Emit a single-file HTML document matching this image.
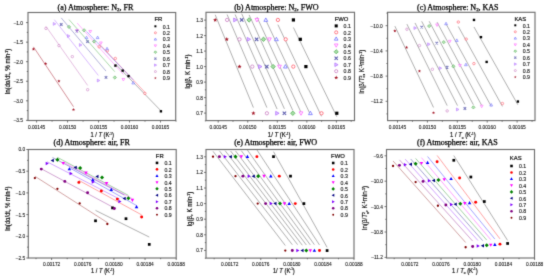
<!DOCTYPE html>
<html><head><meta charset="utf-8"><style>
html,body{margin:0;padding:0;background:#fff;}
svg{display:block;}
#w{width:550px;height:278px;}
.tl{font-family:"Liberation Sans",Arial,sans-serif;font-size:4.8px;fill:#1a1a1a;stroke:#1a1a1a;stroke-width:0.1px;}
.yl{font-family:"Liberation Sans",Arial,sans-serif;font-size:6.3px;fill:#111;stroke:#111;stroke-width:0.18px;}
.lgt{font-family:"Liberation Sans",Arial,sans-serif;font-size:5.9px;fill:#111;stroke:#111;stroke-width:0.2px;}
.al{font-family:"Liberation Sans",Arial,sans-serif;font-size:6.5px;fill:#111;stroke:#111;stroke-width:0.18px;}
.lg{font-family:"Liberation Sans",Arial,sans-serif;font-size:5.2px;fill:#1a1a1a;stroke:#1a1a1a;stroke-width:0.14px;}
.tt{font-family:"Liberation Serif","Times New Roman",serif;font-size:8.1px;fill:#000;stroke:#000;stroke-width:0.25px;}
</style></head><body>
<div id="w"><svg width="550" height="278" viewBox="0 0 550 278">
<defs><filter id="bl" x="0" y="0" width="550" height="278" filterUnits="userSpaceOnUse" color-interpolation-filters="sRGB"><feConvolveMatrix order="3" kernelMatrix="0.0144 0.0912 0.0144 0.0912 0.5776 0.0912 0.0144 0.0912 0.0144" edgeMode="duplicate"/></filter></defs>
<g filter="url(#bl)">
<rect width="550" height="278" fill="#fff"/>
<line x1="115.43" y1="63.96" x2="160.92" y2="110.78" stroke="#7a7a7a" stroke-width="0.6"/>
<line x1="99.18" y1="43.80" x2="144.88" y2="92.23" stroke="#ff5060" stroke-width="0.6" stroke-opacity="0.8"/>
<line x1="86.50" y1="31.42" x2="133.25" y2="79.90" stroke="#6868ff" stroke-width="0.6" stroke-opacity="0.8"/>
<line x1="77.17" y1="23.07" x2="123.39" y2="74.47" stroke="#ff60ff" stroke-width="0.6" stroke-opacity="0.8"/>
<line x1="68.99" y1="19.56" x2="114.80" y2="71.70" stroke="#50b050" stroke-width="0.6" stroke-opacity="0.8"/>
<line x1="61.23" y1="17.90" x2="105.99" y2="71.09" stroke="#6060b0" stroke-width="0.6" stroke-opacity="0.8"/>
<line x1="54.31" y1="19.68" x2="98.34" y2="75.41" stroke="#b070ff" stroke-width="0.6" stroke-opacity="0.8"/>
<line x1="45.93" y1="26.35" x2="87.65" y2="85.43" stroke="#c878c0" stroke-width="0.6" stroke-opacity="0.8"/>
<line x1="33.46" y1="46.86" x2="73.50" y2="106.74" stroke="#a51828" stroke-width="0.6" stroke-opacity="0.8"/>
<rect x="114.24" y="64.42" width="2.37" height="2.37" fill="#000000"/>
<rect x="121.48" y="69.42" width="2.37" height="2.37" fill="#000000"/>
<rect x="127.35" y="74.92" width="2.37" height="2.37" fill="#000000"/>
<rect x="159.74" y="110.12" width="2.37" height="2.37" fill="#000000"/>
<circle cx="99.18" cy="46.80" r="1.22" fill="#fff" stroke="#ff5060" stroke-width="0.75" opacity="0.8"/>
<circle cx="107.36" cy="50.70" r="1.22" fill="#fff" stroke="#ff5060" stroke-width="0.75" opacity="0.8"/>
<circle cx="115.32" cy="58.50" r="1.22" fill="#fff" stroke="#ff5060" stroke-width="0.75" opacity="0.8"/>
<circle cx="144.88" cy="93.40" r="1.22" fill="#fff" stroke="#ff5060" stroke-width="0.75" opacity="0.8"/>
<polygon points="86.50,36.22 87.90,38.74 85.09,38.74" fill="#fff" stroke="#6868ff" stroke-width="0.75" stroke-linejoin="miter" opacity="0.8"/>
<polygon points="97.61,36.12 99.01,38.64 96.20,38.64" fill="#fff" stroke="#6868ff" stroke-width="0.75" stroke-linejoin="miter" opacity="0.8"/>
<polygon points="107.04,47.32 108.45,49.84 105.63,49.84" fill="#fff" stroke="#6868ff" stroke-width="0.75" stroke-linejoin="miter" opacity="0.8"/>
<polygon points="133.25,81.42 134.65,83.94 131.84,83.94" fill="#fff" stroke="#6868ff" stroke-width="0.75" stroke-linejoin="miter" opacity="0.8"/>
<polygon points="77.17,32.08 78.57,29.56 75.76,29.56" fill="#fff" stroke="#ff60ff" stroke-width="0.75" stroke-linejoin="miter" opacity="0.8"/>
<polygon points="90.27,32.98 91.68,30.46 88.86,30.46" fill="#fff" stroke="#ff60ff" stroke-width="0.75" stroke-linejoin="miter" opacity="0.8"/>
<polygon points="100.86,44.48 102.26,41.96 99.45,41.96" fill="#fff" stroke="#ff60ff" stroke-width="0.75" stroke-linejoin="miter" opacity="0.8"/>
<polygon points="123.39,80.98 124.80,78.46 121.99,78.46" fill="#fff" stroke="#ff60ff" stroke-width="0.75" stroke-linejoin="miter" opacity="0.8"/>
<polygon points="68.99,25.27 70.62,26.90 68.99,28.53 67.36,26.90" fill="#a8dca8" stroke="#50b050" stroke-width="0.75" stroke-linejoin="miter" opacity="0.8"/>
<polygon points="84.08,28.67 85.71,30.30 84.08,31.93 82.46,30.30" fill="#a8dca8" stroke="#50b050" stroke-width="0.75" stroke-linejoin="miter" opacity="0.8"/>
<polygon points="94.15,39.87 95.78,41.50 94.15,43.13 92.52,41.50" fill="#a8dca8" stroke="#50b050" stroke-width="0.75" stroke-linejoin="miter" opacity="0.8"/>
<polygon points="114.80,75.87 116.43,77.50 114.80,79.13 113.17,77.50" fill="#a8dca8" stroke="#50b050" stroke-width="0.75" stroke-linejoin="miter" opacity="0.8"/>
<path d="M59.98,23.24L62.49,25.76M62.49,23.24L59.98,25.76" stroke="#6060b0" stroke-width="1.1" fill="none" opacity="0.8"/>
<path d="M75.59,29.84L78.11,32.36M78.11,29.84L75.59,32.36" stroke="#6060b0" stroke-width="1.1" fill="none" opacity="0.8"/>
<path d="M86.29,40.34L88.80,42.86M88.80,40.34L86.29,42.86" stroke="#6060b0" stroke-width="1.1" fill="none" opacity="0.8"/>
<path d="M104.73,76.14L107.25,78.66M107.25,76.14L104.73,78.66" stroke="#6060b0" stroke-width="1.1" fill="none" opacity="0.8"/>
<polygon points="55.79,23.90 53.28,22.49 53.28,25.31" fill="#e4c8ff" stroke="#b070ff" stroke-width="0.75" stroke-linejoin="miter" opacity="0.8"/>
<polygon points="69.95,36.00 67.43,34.59 67.43,37.41" fill="#e4c8ff" stroke="#b070ff" stroke-width="0.75" stroke-linejoin="miter" opacity="0.8"/>
<polygon points="81.90,45.00 79.38,43.59 79.38,46.41" fill="#e4c8ff" stroke="#b070ff" stroke-width="0.75" stroke-linejoin="miter" opacity="0.8"/>
<polygon points="99.82,80.50 97.30,79.09 97.30,81.91" fill="#e4c8ff" stroke="#b070ff" stroke-width="0.75" stroke-linejoin="miter" opacity="0.8"/>
<circle cx="45.93" cy="28.40" r="1.22" fill="#fff" stroke="#c878c0" stroke-width="0.75" opacity="0.8"/>
<circle cx="58.93" cy="45.60" r="1.22" fill="#fff" stroke="#c878c0" stroke-width="0.75" opacity="0.8"/>
<circle cx="72.34" cy="56.60" r="1.22" fill="#fff" stroke="#c878c0" stroke-width="0.75" opacity="0.8"/>
<circle cx="87.65" cy="89.70" r="1.22" fill="#fff" stroke="#c878c0" stroke-width="0.75" opacity="0.8"/>
<polygon points="33.46,47.57 33.89,48.60 35.00,48.70 34.16,49.43 34.41,50.52 33.46,49.94 32.50,50.52 32.75,49.43 31.91,48.70 33.02,48.60" fill="#a51828"/>
<polygon points="45.61,62.07 46.05,63.10 47.16,63.20 46.32,63.93 46.57,65.02 45.61,64.44 44.66,65.02 44.91,63.93 44.07,63.20 45.18,63.10" fill="#a51828"/>
<polygon points="58.93,79.47 59.36,80.50 60.48,80.60 59.63,81.33 59.88,82.42 58.93,81.84 57.97,82.42 58.22,81.33 57.38,80.60 58.49,80.50" fill="#a51828"/>
<polygon points="73.50,107.97 73.93,109.00 75.05,109.10 74.20,109.83 74.45,110.92 73.50,110.34 72.54,110.92 72.79,109.83 71.95,109.10 73.06,109.00" fill="#a51828"/>
<rect x="28.00" y="12.50" width="147.70" height="108.00" fill="none" stroke="#707070" stroke-width="1.15"/>
<line x1="36.60" y1="120.50" x2="36.60" y2="122.50" stroke="#555" stroke-width="0.8"/>
<line x1="67.58" y1="120.50" x2="67.58" y2="122.50" stroke="#555" stroke-width="0.8"/>
<line x1="98.55" y1="120.50" x2="98.55" y2="122.50" stroke="#555" stroke-width="0.8"/>
<line x1="129.53" y1="120.50" x2="129.53" y2="122.50" stroke="#555" stroke-width="0.8"/>
<line x1="160.50" y1="120.50" x2="160.50" y2="122.50" stroke="#555" stroke-width="0.8"/>
<line x1="52.09" y1="120.50" x2="52.09" y2="121.70" stroke="#555" stroke-width="0.8"/>
<line x1="83.06" y1="120.50" x2="83.06" y2="121.70" stroke="#555" stroke-width="0.8"/>
<line x1="114.04" y1="120.50" x2="114.04" y2="121.70" stroke="#555" stroke-width="0.8"/>
<line x1="145.01" y1="120.50" x2="145.01" y2="121.70" stroke="#555" stroke-width="0.8"/>
<line x1="175.99" y1="120.50" x2="175.99" y2="121.70" stroke="#555" stroke-width="0.8"/>
<line x1="26.00" y1="22.60" x2="28.00" y2="22.60" stroke="#555" stroke-width="0.8"/>
<line x1="26.00" y1="42.15" x2="28.00" y2="42.15" stroke="#555" stroke-width="0.8"/>
<line x1="26.00" y1="61.70" x2="28.00" y2="61.70" stroke="#555" stroke-width="0.8"/>
<line x1="26.00" y1="81.25" x2="28.00" y2="81.25" stroke="#555" stroke-width="0.8"/>
<line x1="26.00" y1="100.80" x2="28.00" y2="100.80" stroke="#555" stroke-width="0.8"/>
<line x1="26.00" y1="120.35" x2="28.00" y2="120.35" stroke="#555" stroke-width="0.8"/>
<line x1="26.80" y1="32.38" x2="28.00" y2="32.38" stroke="#555" stroke-width="0.8"/>
<line x1="26.80" y1="51.92" x2="28.00" y2="51.92" stroke="#555" stroke-width="0.8"/>
<line x1="26.80" y1="71.47" x2="28.00" y2="71.47" stroke="#555" stroke-width="0.8"/>
<line x1="26.80" y1="91.03" x2="28.00" y2="91.03" stroke="#555" stroke-width="0.8"/>
<line x1="26.80" y1="110.58" x2="28.00" y2="110.58" stroke="#555" stroke-width="0.8"/>
<text x="36.60" y="129.00" class="tl" text-anchor="middle">0.00145</text>
<text x="67.58" y="129.00" class="tl" text-anchor="middle">0.00150</text>
<text x="98.55" y="129.00" class="tl" text-anchor="middle">0.00155</text>
<text x="129.53" y="129.00" class="tl" text-anchor="middle">0.00160</text>
<text x="160.50" y="129.00" class="tl" text-anchor="middle">0.00165</text>
<text x="23.00" y="24.50" class="tl" text-anchor="end">–1.0</text>
<text x="23.00" y="44.05" class="tl" text-anchor="end">–1.5</text>
<text x="23.00" y="63.60" class="tl" text-anchor="end">–2.0</text>
<text x="23.00" y="83.15" class="tl" text-anchor="end">–2.5</text>
<text x="23.00" y="102.70" class="tl" text-anchor="end">–3.0</text>
<text x="23.00" y="122.25" class="tl" text-anchor="end">–3.5</text>
<text x="57.50" y="9.50" class="tt" textLength="75.8" lengthAdjust="spacing">(a) Atmosphere: N<tspan dy="1.6" font-size="5">2</tspan><tspan dy="-1.6">, </tspan>FR</text>
<text x="90.40" y="137.10" class="al" textLength="23.5" lengthAdjust="spacingAndGlyphs">1 / <tspan font-style="italic">T</tspan> (K<tspan dy="-2.3" font-size="3.3">-1</tspan><tspan dy="2.3">)</tspan></text>
<text transform="translate(10.00,94.20) rotate(-90)" class="yl" textLength="45.4" lengthAdjust="spacingAndGlyphs">ln(dα/dt, % min<tspan dy="-2" font-size="3.6">-1</tspan><tspan dy="2">)</tspan></text>
<text x="154.50" y="21.10" class="lgt">FR</text>
<rect x="154.41" y="25.31" width="1.98" height="1.98" fill="#000000"/>
<text x="162.80" y="28.50" class="lg">0.1</text>
<circle cx="155.40" cy="32.77" r="1.02" fill="#fff" stroke="#ff5060" stroke-width="0.75" opacity="0.8"/>
<text x="162.80" y="34.97" class="lg">0.2</text>
<polygon points="155.40,38.00 156.58,40.11 154.22,40.11" fill="#fff" stroke="#6868ff" stroke-width="0.75" stroke-linejoin="miter" opacity="0.8"/>
<text x="162.80" y="41.44" class="lg">0.3</text>
<polygon points="155.40,46.95 156.58,44.84 154.22,44.84" fill="#fff" stroke="#ff60ff" stroke-width="0.75" stroke-linejoin="miter" opacity="0.8"/>
<text x="162.80" y="47.91" class="lg">0.4</text>
<polygon points="155.40,50.82 156.76,52.18 155.40,53.54 154.04,52.18" fill="#a8dca8" stroke="#50b050" stroke-width="0.75" stroke-linejoin="miter" opacity="0.8"/>
<text x="162.80" y="54.38" class="lg">0.5</text>
<path d="M154.35,57.60L156.45,59.70M156.45,57.60L154.35,59.70" stroke="#6060b0" stroke-width="1.1" fill="none" opacity="0.8"/>
<text x="162.80" y="60.85" class="lg">0.6</text>
<polygon points="156.64,65.12 154.53,63.94 154.53,66.30" fill="#e4c8ff" stroke="#b070ff" stroke-width="0.75" stroke-linejoin="miter" opacity="0.8"/>
<text x="162.80" y="67.32" class="lg">0.7</text>
<circle cx="155.40" cy="71.59" r="1.02" fill="#fff" stroke="#c878c0" stroke-width="0.75" opacity="0.8"/>
<text x="162.80" y="73.79" class="lg">0.8</text>
<polygon points="155.40,76.70 155.76,77.56 156.70,77.64 155.99,78.25 156.20,79.16 155.40,78.68 154.60,79.16 154.81,78.25 154.10,77.64 155.04,77.56" fill="#a51828" opacity="0.8"/>
<text x="162.80" y="80.26" class="lg">0.9</text>
<line x1="293.40" y1="27.49" x2="336.80" y2="116.74" stroke="#7a7a7a" stroke-width="0.6"/>
<line x1="277.90" y1="24.67" x2="321.50" y2="116.32" stroke="#7a7a7a" stroke-width="0.6"/>
<line x1="265.80" y1="20.17" x2="310.40" y2="114.63" stroke="#7a7a7a" stroke-width="0.6"/>
<line x1="256.90" y1="16.96" x2="301.00" y2="112.33" stroke="#7a7a7a" stroke-width="0.6"/>
<line x1="249.10" y1="14.85" x2="292.80" y2="110.50" stroke="#7a7a7a" stroke-width="0.6"/>
<line x1="241.70" y1="13.74" x2="284.40" y2="108.82" stroke="#7a7a7a" stroke-width="0.6"/>
<line x1="235.10" y1="14.51" x2="277.10" y2="109.09" stroke="#7a7a7a" stroke-width="0.6"/>
<line x1="227.10" y1="14.52" x2="266.90" y2="107.60" stroke="#7a7a7a" stroke-width="0.6"/>
<line x1="215.20" y1="14.78" x2="253.40" y2="107.57" stroke="#7a7a7a" stroke-width="0.6"/>
<rect x="291.80" y="18.34" width="3.20" height="3.20" fill="#000000"/>
<rect x="298.70" y="37.71" width="3.20" height="3.20" fill="#000000"/>
<rect x="304.30" y="65.00" width="3.20" height="3.20" fill="#000000"/>
<rect x="335.20" y="111.66" width="3.20" height="3.20" fill="#000000"/>
<circle cx="277.90" cy="19.94" r="1.65" fill="#fff" stroke="#ff5060" stroke-width="0.75"/>
<circle cx="285.70" cy="39.31" r="1.65" fill="#fff" stroke="#ff5060" stroke-width="0.75"/>
<circle cx="293.30" cy="66.60" r="1.65" fill="#fff" stroke="#ff5060" stroke-width="0.75"/>
<circle cx="321.50" cy="113.26" r="1.65" fill="#fff" stroke="#ff5060" stroke-width="0.75"/>
<polygon points="265.80,17.94 267.70,21.34 263.90,21.34" fill="#fff" stroke="#6868ff" stroke-width="0.75" stroke-linejoin="miter"/>
<polygon points="276.40,37.31 278.30,40.71 274.50,40.71" fill="#fff" stroke="#6868ff" stroke-width="0.75" stroke-linejoin="miter"/>
<polygon points="285.40,64.60 287.30,68.00 283.50,68.00" fill="#fff" stroke="#6868ff" stroke-width="0.75" stroke-linejoin="miter"/>
<polygon points="310.40,111.26 312.30,114.66 308.50,114.66" fill="#fff" stroke="#6868ff" stroke-width="0.75" stroke-linejoin="miter"/>
<polygon points="256.90,21.94 258.80,18.54 255.00,18.54" fill="#fff" stroke="#ff60ff" stroke-width="0.75" stroke-linejoin="miter"/>
<polygon points="269.40,41.31 271.30,37.91 267.50,37.91" fill="#fff" stroke="#ff60ff" stroke-width="0.75" stroke-linejoin="miter"/>
<polygon points="279.50,68.60 281.40,65.20 277.60,65.20" fill="#fff" stroke="#ff60ff" stroke-width="0.75" stroke-linejoin="miter"/>
<polygon points="301.00,115.26 302.90,111.86 299.10,111.86" fill="#fff" stroke="#ff60ff" stroke-width="0.75" stroke-linejoin="miter"/>
<polygon points="249.10,17.74 251.30,19.94 249.10,22.14 246.90,19.94" fill="#a8dca8" stroke="#50b050" stroke-width="0.75" stroke-linejoin="miter"/>
<polygon points="263.50,37.11 265.70,39.31 263.50,41.51 261.30,39.31" fill="#a8dca8" stroke="#50b050" stroke-width="0.75" stroke-linejoin="miter"/>
<polygon points="273.10,64.40 275.30,66.60 273.10,68.80 270.90,66.60" fill="#a8dca8" stroke="#50b050" stroke-width="0.75" stroke-linejoin="miter"/>
<polygon points="292.80,111.06 295.00,113.26 292.80,115.46 290.60,113.26" fill="#a8dca8" stroke="#50b050" stroke-width="0.75" stroke-linejoin="miter"/>
<path d="M240.00,18.24L243.40,21.64M243.40,18.24L240.00,21.64" stroke="#6060b0" stroke-width="1.1" fill="none"/>
<path d="M254.90,37.61L258.30,41.01M258.30,37.61L254.90,41.01" stroke="#6060b0" stroke-width="1.1" fill="none"/>
<path d="M265.10,64.90L268.50,68.30M268.50,64.90L265.10,68.30" stroke="#6060b0" stroke-width="1.1" fill="none"/>
<path d="M282.70,111.56L286.10,114.96M286.10,111.56L282.70,114.96" stroke="#6060b0" stroke-width="1.1" fill="none"/>
<polygon points="237.10,19.94 233.70,18.04 233.70,21.84" fill="#e4c8ff" stroke="#b070ff" stroke-width="0.75" stroke-linejoin="miter"/>
<polygon points="250.60,39.31 247.20,37.41 247.20,41.21" fill="#e4c8ff" stroke="#b070ff" stroke-width="0.75" stroke-linejoin="miter"/>
<polygon points="262.00,66.60 258.60,64.70 258.60,68.50" fill="#e4c8ff" stroke="#b070ff" stroke-width="0.75" stroke-linejoin="miter"/>
<polygon points="279.10,113.26 275.70,111.36 275.70,115.16" fill="#e4c8ff" stroke="#b070ff" stroke-width="0.75" stroke-linejoin="miter"/>
<circle cx="227.10" cy="19.94" r="1.65" fill="#fff" stroke="#c878c0" stroke-width="0.75"/>
<circle cx="239.50" cy="39.31" r="1.65" fill="#fff" stroke="#c878c0" stroke-width="0.75"/>
<circle cx="252.30" cy="66.60" r="1.65" fill="#fff" stroke="#c878c0" stroke-width="0.75"/>
<circle cx="266.90" cy="113.26" r="1.65" fill="#fff" stroke="#c878c0" stroke-width="0.75"/>
<polygon points="215.20,17.74 215.79,19.13 217.29,19.26 216.15,20.25 216.49,21.72 215.20,20.94 213.91,21.72 214.25,20.25 213.11,19.26 214.61,19.13" fill="#a51828"/>
<polygon points="226.80,37.11 227.39,38.50 228.89,38.63 227.75,39.61 228.09,41.09 226.80,40.31 225.51,41.09 225.85,39.61 224.71,38.63 226.21,38.50" fill="#a51828"/>
<polygon points="239.50,64.40 240.09,65.79 241.59,65.92 240.45,66.91 240.79,68.38 239.50,67.60 238.21,68.38 238.55,66.91 237.41,65.92 238.91,65.79" fill="#a51828"/>
<polygon points="253.40,111.06 253.99,112.45 255.49,112.58 254.35,113.57 254.69,115.04 253.40,114.26 252.11,115.04 252.45,113.57 251.31,112.58 252.81,112.45" fill="#a51828"/>
<rect x="206.00" y="12.30" width="148.50" height="108.30" fill="none" stroke="#707070" stroke-width="1.15"/>
<line x1="218.20" y1="120.60" x2="218.20" y2="122.60" stroke="#555" stroke-width="0.8"/>
<line x1="247.75" y1="120.60" x2="247.75" y2="122.60" stroke="#555" stroke-width="0.8"/>
<line x1="277.30" y1="120.60" x2="277.30" y2="122.60" stroke="#555" stroke-width="0.8"/>
<line x1="306.85" y1="120.60" x2="306.85" y2="122.60" stroke="#555" stroke-width="0.8"/>
<line x1="336.40" y1="120.60" x2="336.40" y2="122.60" stroke="#555" stroke-width="0.8"/>
<line x1="232.97" y1="120.60" x2="232.97" y2="121.80" stroke="#555" stroke-width="0.8"/>
<line x1="262.52" y1="120.60" x2="262.52" y2="121.80" stroke="#555" stroke-width="0.8"/>
<line x1="292.07" y1="120.60" x2="292.07" y2="121.80" stroke="#555" stroke-width="0.8"/>
<line x1="321.62" y1="120.60" x2="321.62" y2="121.80" stroke="#555" stroke-width="0.8"/>
<line x1="351.17" y1="120.60" x2="351.17" y2="121.80" stroke="#555" stroke-width="0.8"/>
<line x1="204.00" y1="20.10" x2="206.00" y2="20.10" stroke="#555" stroke-width="0.8"/>
<line x1="204.00" y1="35.60" x2="206.00" y2="35.60" stroke="#555" stroke-width="0.8"/>
<line x1="204.00" y1="51.10" x2="206.00" y2="51.10" stroke="#555" stroke-width="0.8"/>
<line x1="204.00" y1="66.60" x2="206.00" y2="66.60" stroke="#555" stroke-width="0.8"/>
<line x1="204.00" y1="82.10" x2="206.00" y2="82.10" stroke="#555" stroke-width="0.8"/>
<line x1="204.00" y1="97.60" x2="206.00" y2="97.60" stroke="#555" stroke-width="0.8"/>
<line x1="204.00" y1="113.10" x2="206.00" y2="113.10" stroke="#555" stroke-width="0.8"/>
<line x1="204.80" y1="27.85" x2="206.00" y2="27.85" stroke="#555" stroke-width="0.8"/>
<line x1="204.80" y1="43.35" x2="206.00" y2="43.35" stroke="#555" stroke-width="0.8"/>
<line x1="204.80" y1="58.85" x2="206.00" y2="58.85" stroke="#555" stroke-width="0.8"/>
<line x1="204.80" y1="74.35" x2="206.00" y2="74.35" stroke="#555" stroke-width="0.8"/>
<line x1="204.80" y1="89.85" x2="206.00" y2="89.85" stroke="#555" stroke-width="0.8"/>
<line x1="204.80" y1="105.35" x2="206.00" y2="105.35" stroke="#555" stroke-width="0.8"/>
<line x1="204.80" y1="120.85" x2="206.00" y2="120.85" stroke="#555" stroke-width="0.8"/>
<text x="218.20" y="129.10" class="tl" text-anchor="middle">0.00145</text>
<text x="247.75" y="129.10" class="tl" text-anchor="middle">0.00150</text>
<text x="277.30" y="129.10" class="tl" text-anchor="middle">0.00155</text>
<text x="306.85" y="129.10" class="tl" text-anchor="middle">0.00160</text>
<text x="336.40" y="129.10" class="tl" text-anchor="middle">0.00165</text>
<text x="202.90" y="22.00" class="tl" text-anchor="end">1.3</text>
<text x="202.90" y="37.50" class="tl" text-anchor="end">1.2</text>
<text x="202.90" y="53.00" class="tl" text-anchor="end">1.1</text>
<text x="202.90" y="68.50" class="tl" text-anchor="end">1.0</text>
<text x="202.90" y="84.00" class="tl" text-anchor="end">0.9</text>
<text x="202.90" y="99.50" class="tl" text-anchor="end">0.8</text>
<text x="202.90" y="115.00" class="tl" text-anchor="end">0.7</text>
<text x="234.20" y="9.50" class="tt" textLength="84.4" lengthAdjust="spacing">(b) Atmosphere: N<tspan dy="1.6" font-size="5">2</tspan><tspan dy="-1.6">, </tspan>FWO</text>
<text x="267.80" y="137.10" class="al" textLength="22.7" lengthAdjust="spacingAndGlyphs">1/ <tspan font-style="italic">T</tspan> (K<tspan dy="-2.3" font-size="3.3">-1</tspan><tspan dy="2.3">)</tspan></text>
<text transform="translate(189.80,88.50) rotate(-90)" class="yl" textLength="34.0" lengthAdjust="spacingAndGlyphs">lg(β, K min<tspan dy="-2" font-size="3.6">-1</tspan><tspan dy="2">)</tspan></text>
<text x="334.70" y="20.90" class="lgt">FWO</text>
<rect x="334.68" y="24.38" width="3.04" height="3.04" fill="#000000"/>
<text x="343.60" y="28.10" class="lg">0.1</text>
<circle cx="336.20" cy="32.37" r="1.57" fill="#fff" stroke="#ff5060" stroke-width="0.75"/>
<text x="343.60" y="34.57" class="lg">0.2</text>
<polygon points="336.20,36.94 338.00,40.17 334.39,40.17" fill="#fff" stroke="#6868ff" stroke-width="0.75" stroke-linejoin="miter"/>
<text x="343.60" y="41.04" class="lg">0.3</text>
<polygon points="336.20,47.21 338.00,43.98 334.39,43.98" fill="#fff" stroke="#ff60ff" stroke-width="0.75" stroke-linejoin="miter"/>
<text x="343.60" y="47.51" class="lg">0.4</text>
<polygon points="336.20,49.69 338.29,51.78 336.20,53.87 334.11,51.78" fill="#a8dca8" stroke="#50b050" stroke-width="0.75" stroke-linejoin="miter"/>
<text x="343.60" y="53.98" class="lg">0.5</text>
<path d="M334.58,56.63L337.81,59.87M337.81,56.63L334.58,59.87" stroke="#6060b0" stroke-width="1.1" fill="none"/>
<text x="343.60" y="60.45" class="lg">0.6</text>
<polygon points="338.10,64.72 334.87,62.91 334.87,66.53" fill="#e4c8ff" stroke="#b070ff" stroke-width="0.75" stroke-linejoin="miter"/>
<text x="343.60" y="66.92" class="lg">0.7</text>
<circle cx="336.20" cy="71.19" r="1.57" fill="#fff" stroke="#c878c0" stroke-width="0.75"/>
<text x="343.60" y="73.39" class="lg">0.8</text>
<polygon points="336.20,75.57 336.76,76.89 338.19,77.01 337.10,77.95 337.43,79.35 336.20,78.61 334.97,79.35 335.30,77.95 334.21,77.01 335.64,76.89" fill="#a51828"/>
<text x="343.60" y="79.86" class="lg">0.9</text>
<line x1="473.99" y1="26.98" x2="517.90" y2="104.79" stroke="#7a7a7a" stroke-width="0.6"/>
<line x1="458.31" y1="26.46" x2="502.42" y2="106.38" stroke="#7a7a7a" stroke-width="0.6"/>
<line x1="446.06" y1="23.91" x2="491.19" y2="106.26" stroke="#7a7a7a" stroke-width="0.6"/>
<line x1="437.06" y1="22.15" x2="481.68" y2="105.36" stroke="#7a7a7a" stroke-width="0.6"/>
<line x1="429.17" y1="21.28" x2="473.38" y2="104.75" stroke="#7a7a7a" stroke-width="0.6"/>
<line x1="421.68" y1="21.30" x2="464.88" y2="104.32" stroke="#7a7a7a" stroke-width="0.6"/>
<line x1="415.00" y1="22.97" x2="457.50" y2="105.58" stroke="#7a7a7a" stroke-width="0.6"/>
<line x1="406.91" y1="24.14" x2="447.18" y2="105.59" stroke="#7a7a7a" stroke-width="0.6"/>
<line x1="394.86" y1="26.13" x2="433.52" y2="107.45" stroke="#7a7a7a" stroke-width="0.6"/>
<rect x="472.81" y="18.75" width="2.37" height="2.37" fill="#000000"/>
<rect x="479.79" y="35.94" width="2.37" height="2.37" fill="#000000"/>
<rect x="485.45" y="60.74" width="2.37" height="2.37" fill="#000000"/>
<rect x="516.72" y="100.35" width="2.37" height="2.37" fill="#000000"/>
<circle cx="458.31" cy="22.04" r="1.22" fill="#fff" stroke="#ff5060" stroke-width="0.75" opacity="0.8"/>
<circle cx="466.20" cy="39.10" r="1.22" fill="#fff" stroke="#ff5060" stroke-width="0.75" opacity="0.8"/>
<circle cx="473.89" cy="63.61" r="1.22" fill="#fff" stroke="#ff5060" stroke-width="0.75" opacity="0.8"/>
<circle cx="502.42" cy="103.52" r="1.22" fill="#fff" stroke="#ff5060" stroke-width="0.75" opacity="0.8"/>
<polygon points="446.06,22.24 447.47,24.75 444.66,24.75" fill="#fff" stroke="#6868ff" stroke-width="0.75" stroke-linejoin="miter" opacity="0.8"/>
<polygon points="456.79,38.89 458.20,41.41 455.38,41.41" fill="#fff" stroke="#6868ff" stroke-width="0.75" stroke-linejoin="miter" opacity="0.8"/>
<polygon points="465.90,63.20 467.30,65.72 464.49,65.72" fill="#fff" stroke="#6868ff" stroke-width="0.75" stroke-linejoin="miter" opacity="0.8"/>
<polygon points="491.19,103.51 492.60,106.03 489.79,106.03" fill="#fff" stroke="#6868ff" stroke-width="0.75" stroke-linejoin="miter" opacity="0.8"/>
<polygon points="437.06,26.44 438.46,23.93 435.65,23.93" fill="#fff" stroke="#ff60ff" stroke-width="0.75" stroke-linejoin="miter" opacity="0.8"/>
<polygon points="449.71,42.82 451.11,40.31 448.30,40.31" fill="#fff" stroke="#ff60ff" stroke-width="0.75" stroke-linejoin="miter" opacity="0.8"/>
<polygon points="459.93,66.97 461.33,64.46 458.52,64.46" fill="#fff" stroke="#ff60ff" stroke-width="0.75" stroke-linejoin="miter" opacity="0.8"/>
<polygon points="481.68,107.72 483.09,105.21 480.27,105.21" fill="#fff" stroke="#ff60ff" stroke-width="0.75" stroke-linejoin="miter" opacity="0.8"/>
<polygon points="429.17,24.44 430.79,26.07 429.17,27.69 427.54,26.07" fill="#a8dca8" stroke="#50b050" stroke-width="0.75" stroke-linejoin="miter" opacity="0.8"/>
<polygon points="443.74,40.53 445.36,42.16 443.74,43.79 442.11,42.16" fill="#a8dca8" stroke="#50b050" stroke-width="0.75" stroke-linejoin="miter" opacity="0.8"/>
<polygon points="453.45,64.75 455.08,66.37 453.45,68.00 451.82,66.37" fill="#a8dca8" stroke="#50b050" stroke-width="0.75" stroke-linejoin="miter" opacity="0.8"/>
<polygon points="473.38,105.72 475.01,107.35 473.38,108.98 471.76,107.35" fill="#a8dca8" stroke="#50b050" stroke-width="0.75" stroke-linejoin="miter" opacity="0.8"/>
<path d="M420.42,25.86L422.94,28.38M422.94,25.86L420.42,28.38" stroke="#6060b0" stroke-width="1.1" fill="none" opacity="0.8"/>
<path d="M435.50,41.87L438.01,44.39M438.01,41.87L435.50,44.39" stroke="#6060b0" stroke-width="1.1" fill="none" opacity="0.8"/>
<path d="M445.82,65.99L448.33,68.50M448.33,65.99L445.82,68.50" stroke="#6060b0" stroke-width="1.1" fill="none" opacity="0.8"/>
<path d="M463.63,107.23L466.14,109.75M466.14,107.23L463.63,109.75" stroke="#6060b0" stroke-width="1.1" fill="none" opacity="0.8"/>
<polygon points="416.48,28.07 413.96,26.66 413.96,29.47" fill="#e4c8ff" stroke="#b070ff" stroke-width="0.75" stroke-linejoin="miter" opacity="0.8"/>
<polygon points="430.14,44.26 427.62,42.85 427.62,45.67" fill="#e4c8ff" stroke="#b070ff" stroke-width="0.75" stroke-linejoin="miter" opacity="0.8"/>
<polygon points="441.68,68.20 439.16,66.79 439.16,69.60" fill="#e4c8ff" stroke="#b070ff" stroke-width="0.75" stroke-linejoin="miter" opacity="0.8"/>
<polygon points="458.98,109.49 456.46,108.08 456.46,110.90" fill="#e4c8ff" stroke="#b070ff" stroke-width="0.75" stroke-linejoin="miter" opacity="0.8"/>
<circle cx="406.91" cy="29.23" r="1.22" fill="#fff" stroke="#c878c0" stroke-width="0.75" opacity="0.8"/>
<circle cx="419.45" cy="45.56" r="1.22" fill="#fff" stroke="#c878c0" stroke-width="0.75" opacity="0.8"/>
<circle cx="432.40" cy="69.28" r="1.22" fill="#fff" stroke="#c878c0" stroke-width="0.75" opacity="0.8"/>
<circle cx="447.18" cy="110.90" r="1.22" fill="#fff" stroke="#c878c0" stroke-width="0.75" opacity="0.8"/>
<polygon points="394.86,29.34 395.30,30.37 396.41,30.47 395.57,31.20 395.82,32.29 394.86,31.71 393.91,32.29 394.16,31.20 393.32,30.47 394.43,30.37" fill="#a51828"/>
<polygon points="406.60,45.77 407.04,46.80 408.15,46.89 407.31,47.62 407.56,48.71 406.60,48.13 405.64,48.71 405.90,47.62 405.05,46.89 406.17,46.80" fill="#a51828"/>
<polygon points="419.45,69.48 419.89,70.51 421.00,70.60 420.16,71.33 420.41,72.42 419.45,71.84 418.50,72.42 418.75,71.33 417.90,70.60 419.02,70.51" fill="#a51828"/>
<polygon points="433.52,111.17 433.95,112.19 435.07,112.29 434.22,113.02 434.47,114.11 433.52,113.53 432.56,114.11 432.81,113.02 431.97,112.29 433.08,112.19" fill="#a51828"/>
<rect x="387.60" y="12.30" width="147.40" height="108.30" fill="none" stroke="#707070" stroke-width="1.15"/>
<line x1="397.50" y1="120.60" x2="397.50" y2="122.60" stroke="#555" stroke-width="0.8"/>
<line x1="427.40" y1="120.60" x2="427.40" y2="122.60" stroke="#555" stroke-width="0.8"/>
<line x1="457.30" y1="120.60" x2="457.30" y2="122.60" stroke="#555" stroke-width="0.8"/>
<line x1="487.20" y1="120.60" x2="487.20" y2="122.60" stroke="#555" stroke-width="0.8"/>
<line x1="517.10" y1="120.60" x2="517.10" y2="122.60" stroke="#555" stroke-width="0.8"/>
<line x1="412.45" y1="120.60" x2="412.45" y2="121.80" stroke="#555" stroke-width="0.8"/>
<line x1="442.35" y1="120.60" x2="442.35" y2="121.80" stroke="#555" stroke-width="0.8"/>
<line x1="472.25" y1="120.60" x2="472.25" y2="121.80" stroke="#555" stroke-width="0.8"/>
<line x1="502.15" y1="120.60" x2="502.15" y2="121.80" stroke="#555" stroke-width="0.8"/>
<line x1="532.05" y1="120.60" x2="532.05" y2="121.80" stroke="#555" stroke-width="0.8"/>
<line x1="385.60" y1="25.70" x2="387.60" y2="25.70" stroke="#555" stroke-width="0.8"/>
<line x1="385.60" y1="50.90" x2="387.60" y2="50.90" stroke="#555" stroke-width="0.8"/>
<line x1="385.60" y1="76.10" x2="387.60" y2="76.10" stroke="#555" stroke-width="0.8"/>
<line x1="385.60" y1="101.30" x2="387.60" y2="101.30" stroke="#555" stroke-width="0.8"/>
<line x1="386.40" y1="13.10" x2="387.60" y2="13.10" stroke="#555" stroke-width="0.8"/>
<line x1="386.40" y1="38.30" x2="387.60" y2="38.30" stroke="#555" stroke-width="0.8"/>
<line x1="386.40" y1="63.50" x2="387.60" y2="63.50" stroke="#555" stroke-width="0.8"/>
<line x1="386.40" y1="88.70" x2="387.60" y2="88.70" stroke="#555" stroke-width="0.8"/>
<line x1="386.40" y1="113.90" x2="387.60" y2="113.90" stroke="#555" stroke-width="0.8"/>
<text x="397.50" y="129.10" class="tl" text-anchor="middle">0.00145</text>
<text x="427.40" y="129.10" class="tl" text-anchor="middle">0.00150</text>
<text x="457.30" y="129.10" class="tl" text-anchor="middle">0.00155</text>
<text x="487.20" y="129.10" class="tl" text-anchor="middle">0.00160</text>
<text x="517.10" y="129.10" class="tl" text-anchor="middle">0.00165</text>
<text x="382.60" y="27.60" class="tl" text-anchor="end">–10.0</text>
<text x="382.60" y="52.80" class="tl" text-anchor="end">–10.4</text>
<text x="382.60" y="78.00" class="tl" text-anchor="end">–10.8</text>
<text x="382.60" y="103.20" class="tl" text-anchor="end">–11.2</text>
<text x="417.00" y="9.50" class="tt" textLength="81.6" lengthAdjust="spacing">(c) Atmosphere: N<tspan dy="1.6" font-size="5">2</tspan><tspan dy="-1.6">, </tspan>KAS</text>
<text x="450.10" y="137.10" class="al" textLength="25.5" lengthAdjust="spacingAndGlyphs">1 / <tspan font-style="italic">T</tspan><tspan dy="1.5" font-size="3.3">α</tspan><tspan dy="-1.5"> (K</tspan><tspan dy="-2.3" font-size="3.3">-1</tspan><tspan dy="2.3">)</tspan></text>
<text transform="translate(364.20,93.50) rotate(-90)" class="yl" textLength="43.8" lengthAdjust="spacingAndGlyphs">ln(β/<tspan font-style="italic">T</tspan><tspan dy="-2" font-size="3.6">2</tspan><tspan dy="3.2" dx="-2" font-size="3.6">α</tspan><tspan dy="-1.2">, K</tspan><tspan dy="-2" font-size="3.6">-1</tspan><tspan dy="2">min</tspan><tspan dy="-2" font-size="3.6">-1</tspan><tspan dy="2">)</tspan></text>
<text x="514.40" y="20.70" class="lgt">KAS</text>
<rect x="514.31" y="24.31" width="1.98" height="1.98" fill="#000000"/>
<text x="522.70" y="27.50" class="lg">0.1</text>
<circle cx="515.30" cy="31.77" r="1.02" fill="#fff" stroke="#ff5060" stroke-width="0.75" opacity="0.8"/>
<text x="522.70" y="33.97" class="lg">0.2</text>
<polygon points="515.30,37.00 516.48,39.11 514.12,39.11" fill="#fff" stroke="#6868ff" stroke-width="0.75" stroke-linejoin="miter" opacity="0.8"/>
<text x="522.70" y="40.44" class="lg">0.3</text>
<polygon points="515.30,45.95 516.48,43.84 514.12,43.84" fill="#fff" stroke="#ff60ff" stroke-width="0.75" stroke-linejoin="miter" opacity="0.8"/>
<text x="522.70" y="46.91" class="lg">0.4</text>
<polygon points="515.30,49.82 516.66,51.18 515.30,52.54 513.94,51.18" fill="#a8dca8" stroke="#50b050" stroke-width="0.75" stroke-linejoin="miter" opacity="0.8"/>
<text x="522.70" y="53.38" class="lg">0.5</text>
<path d="M514.25,56.60L516.35,58.70M516.35,56.60L514.25,58.70" stroke="#6060b0" stroke-width="1.1" fill="none" opacity="0.8"/>
<text x="522.70" y="59.85" class="lg">0.6</text>
<polygon points="516.54,64.12 514.43,62.94 514.43,65.30" fill="#e4c8ff" stroke="#b070ff" stroke-width="0.75" stroke-linejoin="miter" opacity="0.8"/>
<text x="522.70" y="66.32" class="lg">0.7</text>
<circle cx="515.30" cy="70.59" r="1.02" fill="#fff" stroke="#c878c0" stroke-width="0.75" opacity="0.8"/>
<text x="522.70" y="72.79" class="lg">0.8</text>
<polygon points="515.30,75.70 515.66,76.56 516.60,76.64 515.89,77.25 516.10,78.16 515.30,77.68 514.50,78.16 514.71,77.25 514.00,76.64 514.94,76.56" fill="#a51828" opacity="0.8"/>
<text x="522.70" y="79.26" class="lg">0.9</text>
<line x1="95.51" y1="210.38" x2="149.25" y2="237.06" stroke="#7a7a7a" stroke-width="0.6"/>
<line x1="78.87" y1="180.36" x2="141.63" y2="214.89" stroke="#ff0000" stroke-width="0.6" stroke-opacity="0.6"/>
<line x1="69.35" y1="167.71" x2="136.52" y2="205.50" stroke="#0000ff" stroke-width="0.6" stroke-opacity="0.6"/>
<line x1="63.23" y1="161.86" x2="132.41" y2="198.72" stroke="#ff00ff" stroke-width="0.6" stroke-opacity="0.6"/>
<line x1="57.41" y1="157.37" x2="128.40" y2="195.39" stroke="#008000" stroke-width="0.6" stroke-opacity="0.6"/>
<line x1="52.50" y1="157.52" x2="124.39" y2="195.14" stroke="#000080" stroke-width="0.6" stroke-opacity="0.6"/>
<line x1="46.99" y1="161.76" x2="119.67" y2="199.11" stroke="#8000ff" stroke-width="0.6" stroke-opacity="0.6"/>
<line x1="41.27" y1="168.79" x2="114.36" y2="207.97" stroke="#800080" stroke-width="0.6" stroke-opacity="0.6"/>
<line x1="34.86" y1="176.26" x2="107.34" y2="222.52" stroke="#800000" stroke-width="0.6" stroke-opacity="0.6"/>
<rect x="94.15" y="219.44" width="2.72" height="2.72" fill="#000000"/>
<rect x="111.20" y="206.54" width="2.72" height="2.72" fill="#000000"/>
<rect x="124.63" y="217.34" width="2.72" height="2.72" fill="#000000"/>
<rect x="147.89" y="243.04" width="2.72" height="2.72" fill="#000000"/>
<circle cx="78.87" cy="182.40" r="1.47" fill="#ff0000"/>
<circle cx="101.33" cy="191.00" r="1.47" fill="#ff0000"/>
<circle cx="117.37" cy="199.10" r="1.47" fill="#ff0000"/>
<circle cx="141.63" cy="217.00" r="1.47" fill="#ff0000"/>
<polygon points="69.35,167.16 71.09,170.29 67.60,170.29" fill="#0000ff" stroke-linejoin="miter"/>
<polygon points="92.81,178.06 94.55,181.19 91.06,181.19" fill="#0000ff" stroke-linejoin="miter"/>
<polygon points="111.25,187.76 113.00,190.89 109.51,190.89" fill="#0000ff" stroke-linejoin="miter"/>
<polygon points="136.52,205.06 138.27,208.19 134.77,208.19" fill="#0000ff" stroke-linejoin="miter"/>
<polygon points="63.23,165.04 64.98,161.91 61.48,161.91" fill="#ff00ff" stroke-linejoin="miter"/>
<polygon points="85.99,174.74 87.74,171.61 84.24,171.61" fill="#ff00ff" stroke-linejoin="miter"/>
<polygon points="106.54,185.14 108.29,182.01 104.79,182.01" fill="#ff00ff" stroke-linejoin="miter"/>
<polygon points="132.41,201.94 134.16,198.81 130.66,198.81" fill="#ff00ff" stroke-linejoin="miter"/>
<polygon points="57.41,157.78 59.44,159.80 57.41,161.82 55.39,159.80" fill="#008000" stroke-linejoin="miter"/>
<polygon points="80.17,165.98 82.20,168.00 80.17,170.02 78.15,168.00" fill="#008000" stroke-linejoin="miter"/>
<polygon points="102.03,175.58 104.05,177.60 102.03,179.62 100.01,177.60" fill="#008000" stroke-linejoin="miter"/>
<polygon points="128.40,196.18 130.42,198.20 128.40,200.22 126.37,198.20" fill="#008000" stroke-linejoin="miter"/>
<polygon points="50.66,160.50 53.79,158.75 53.79,162.25" fill="#000080" stroke-linejoin="miter"/>
<polygon points="73.62,167.60 76.75,165.85 76.75,169.35" fill="#000080" stroke-linejoin="miter"/>
<polygon points="95.38,176.50 98.51,174.75 98.51,178.25" fill="#000080" stroke-linejoin="miter"/>
<polygon points="122.55,198.50 125.67,196.75 125.67,200.25" fill="#000080" stroke-linejoin="miter"/>
<polygon points="48.83,163.40 45.70,161.65 45.70,165.15" fill="#8000ff" stroke-linejoin="miter"/>
<polygon points="72.69,173.50 69.56,171.75 69.56,175.25" fill="#8000ff" stroke-linejoin="miter"/>
<polygon points="94.85,181.90 91.72,180.15 91.72,183.65" fill="#8000ff" stroke-linejoin="miter"/>
<polygon points="121.51,201.50 118.39,199.75 118.39,203.25" fill="#8000ff" stroke-linejoin="miter"/>
<circle cx="41.27" cy="169.10" r="1.47" fill="#800080"/>
<circle cx="64.83" cy="181.40" r="1.47" fill="#800080"/>
<circle cx="87.59" cy="192.80" r="1.47" fill="#800080"/>
<circle cx="114.36" cy="208.50" r="1.47" fill="#800080"/>
<circle cx="34.86" cy="178.10" r="1.15" fill="#800000"/>
<circle cx="57.41" cy="188.80" r="1.15" fill="#800000"/>
<circle cx="79.67" cy="203.40" r="1.15" fill="#800000"/>
<circle cx="107.34" cy="224.00" r="1.15" fill="#800000"/>
<rect x="28.30" y="149.50" width="147.90" height="108.50" fill="none" stroke="#707070" stroke-width="1.15"/>
<line x1="51.60" y1="258.00" x2="51.60" y2="260.00" stroke="#555" stroke-width="0.8"/>
<line x1="82.75" y1="258.00" x2="82.75" y2="260.00" stroke="#555" stroke-width="0.8"/>
<line x1="113.90" y1="258.00" x2="113.90" y2="260.00" stroke="#555" stroke-width="0.8"/>
<line x1="145.05" y1="258.00" x2="145.05" y2="260.00" stroke="#555" stroke-width="0.8"/>
<line x1="176.20" y1="258.00" x2="176.20" y2="260.00" stroke="#555" stroke-width="0.8"/>
<line x1="36.03" y1="258.00" x2="36.03" y2="259.20" stroke="#555" stroke-width="0.8"/>
<line x1="67.18" y1="258.00" x2="67.18" y2="259.20" stroke="#555" stroke-width="0.8"/>
<line x1="98.33" y1="258.00" x2="98.33" y2="259.20" stroke="#555" stroke-width="0.8"/>
<line x1="129.48" y1="258.00" x2="129.48" y2="259.20" stroke="#555" stroke-width="0.8"/>
<line x1="160.62" y1="258.00" x2="160.62" y2="259.20" stroke="#555" stroke-width="0.8"/>
<line x1="26.30" y1="149.50" x2="28.30" y2="149.50" stroke="#555" stroke-width="0.8"/>
<line x1="26.30" y1="171.20" x2="28.30" y2="171.20" stroke="#555" stroke-width="0.8"/>
<line x1="26.30" y1="192.90" x2="28.30" y2="192.90" stroke="#555" stroke-width="0.8"/>
<line x1="26.30" y1="214.60" x2="28.30" y2="214.60" stroke="#555" stroke-width="0.8"/>
<line x1="26.30" y1="236.30" x2="28.30" y2="236.30" stroke="#555" stroke-width="0.8"/>
<line x1="26.30" y1="258.00" x2="28.30" y2="258.00" stroke="#555" stroke-width="0.8"/>
<line x1="27.10" y1="160.35" x2="28.30" y2="160.35" stroke="#555" stroke-width="0.8"/>
<line x1="27.10" y1="182.05" x2="28.30" y2="182.05" stroke="#555" stroke-width="0.8"/>
<line x1="27.10" y1="203.75" x2="28.30" y2="203.75" stroke="#555" stroke-width="0.8"/>
<line x1="27.10" y1="225.45" x2="28.30" y2="225.45" stroke="#555" stroke-width="0.8"/>
<line x1="27.10" y1="247.15" x2="28.30" y2="247.15" stroke="#555" stroke-width="0.8"/>
<text x="51.60" y="265.80" class="tl" text-anchor="middle">0.00172</text>
<text x="82.75" y="265.80" class="tl" text-anchor="middle">0.00176</text>
<text x="113.90" y="265.80" class="tl" text-anchor="middle">0.00180</text>
<text x="145.05" y="265.80" class="tl" text-anchor="middle">0.00184</text>
<text x="176.20" y="265.80" class="tl" text-anchor="middle">0.00188</text>
<text x="25.10" y="151.40" class="tl" text-anchor="end">0.0</text>
<text x="25.10" y="173.10" class="tl" text-anchor="end">–0.5</text>
<text x="25.10" y="194.80" class="tl" text-anchor="end">–1.0</text>
<text x="25.10" y="216.50" class="tl" text-anchor="end">–1.5</text>
<text x="25.10" y="238.20" class="tl" text-anchor="end">–2.0</text>
<text x="25.10" y="259.90" class="tl" text-anchor="end">–2.5</text>
<text x="53.60" y="144.70" class="tt" textLength="76.4" lengthAdjust="spacing">(d) Atmosphere: air, FR</text>
<text x="91.00" y="272.80" class="al" textLength="23.5" lengthAdjust="spacingAndGlyphs">1 / <tspan font-style="italic">T</tspan> (K<tspan dy="-2.3" font-size="3.3">-1</tspan><tspan dy="2.3">)</tspan></text>
<text transform="translate(9.80,230.70) rotate(-90)" class="yl" textLength="44.2" lengthAdjust="spacingAndGlyphs">ln(dα/dt, % min<tspan dy="-2" font-size="3.6">-1</tspan><tspan dy="2">)</tspan></text>
<text x="155.80" y="157.90" class="lgt">FR</text>
<rect x="155.72" y="161.62" width="2.56" height="2.56" fill="#000000"/>
<text x="164.40" y="165.10" class="lg">0.1</text>
<circle cx="157.00" cy="169.37" r="1.28" fill="#ff0000"/>
<text x="164.40" y="171.57" class="lg">0.2</text>
<polygon points="157.00,174.24 158.52,176.96 155.48,176.96" fill="#0000ff" stroke-linejoin="miter"/>
<text x="164.40" y="178.04" class="lg">0.3</text>
<polygon points="157.00,183.91 158.52,181.19 155.48,181.19" fill="#ff00ff" stroke-linejoin="miter"/>
<text x="164.40" y="184.51" class="lg">0.4</text>
<polygon points="157.00,187.02 158.76,188.78 157.00,190.54 155.24,188.78" fill="#008000" stroke-linejoin="miter"/>
<text x="164.40" y="190.98" class="lg">0.5</text>
<polygon points="155.40,195.25 158.12,193.73 158.12,196.77" fill="#000080" stroke-linejoin="miter"/>
<text x="164.40" y="197.45" class="lg">0.6</text>
<polygon points="158.60,201.72 155.88,200.20 155.88,203.24" fill="#8000ff" stroke-linejoin="miter"/>
<text x="164.40" y="203.92" class="lg">0.7</text>
<circle cx="157.00" cy="208.19" r="1.28" fill="#800080"/>
<text x="164.40" y="210.39" class="lg">0.8</text>
<circle cx="157.00" cy="214.66" r="0.96" fill="#800000"/>
<text x="164.40" y="216.86" class="lg">0.9</text>
<line x1="273.50" y1="151.63" x2="327.10" y2="247.38" stroke="#7a7a7a" stroke-width="0.6"/>
<line x1="256.90" y1="149.87" x2="319.50" y2="244.96" stroke="#7a7a7a" stroke-width="0.6"/>
<line x1="247.40" y1="150.04" x2="314.40" y2="244.70" stroke="#7a7a7a" stroke-width="0.6"/>
<line x1="241.30" y1="150.65" x2="310.30" y2="244.93" stroke="#7a7a7a" stroke-width="0.6"/>
<line x1="235.50" y1="150.91" x2="306.30" y2="244.95" stroke="#7a7a7a" stroke-width="0.6"/>
<line x1="230.60" y1="150.99" x2="302.30" y2="245.24" stroke="#7a7a7a" stroke-width="0.6"/>
<line x1="225.10" y1="150.63" x2="297.60" y2="244.65" stroke="#7a7a7a" stroke-width="0.6"/>
<line x1="219.40" y1="150.82" x2="292.30" y2="244.70" stroke="#7a7a7a" stroke-width="0.6"/>
<line x1="213.00" y1="151.29" x2="285.30" y2="245.50" stroke="#7a7a7a" stroke-width="0.6"/>
<rect x="272.14" y="155.28" width="2.72" height="2.72" fill="#000000"/>
<rect x="289.14" y="174.77" width="2.72" height="2.72" fill="#000000"/>
<rect x="302.54" y="202.24" width="2.72" height="2.72" fill="#000000"/>
<rect x="325.74" y="249.20" width="2.72" height="2.72" fill="#000000"/>
<circle cx="256.90" cy="156.64" r="1.47" fill="#ff0000"/>
<circle cx="279.30" cy="176.13" r="1.47" fill="#ff0000"/>
<circle cx="295.30" cy="203.60" r="1.47" fill="#ff0000"/>
<circle cx="319.50" cy="250.56" r="1.47" fill="#ff0000"/>
<polygon points="247.40,154.80 249.15,157.93 245.65,157.93" fill="#0000ff" stroke-linejoin="miter"/>
<polygon points="270.80,174.29 272.55,177.42 269.05,177.42" fill="#0000ff" stroke-linejoin="miter"/>
<polygon points="289.20,201.76 290.95,204.89 287.45,204.89" fill="#0000ff" stroke-linejoin="miter"/>
<polygon points="314.40,248.72 316.15,251.85 312.65,251.85" fill="#0000ff" stroke-linejoin="miter"/>
<polygon points="241.30,158.48 243.05,155.35 239.55,155.35" fill="#ff00ff" stroke-linejoin="miter"/>
<polygon points="264.00,177.97 265.75,174.84 262.25,174.84" fill="#ff00ff" stroke-linejoin="miter"/>
<polygon points="284.50,205.44 286.25,202.31 282.75,202.31" fill="#ff00ff" stroke-linejoin="miter"/>
<polygon points="310.30,252.40 312.05,249.27 308.55,249.27" fill="#ff00ff" stroke-linejoin="miter"/>
<polygon points="235.50,154.62 237.52,156.64 235.50,158.66 233.48,156.64" fill="#008000" stroke-linejoin="miter"/>
<polygon points="258.20,174.11 260.22,176.13 258.20,178.15 256.18,176.13" fill="#008000" stroke-linejoin="miter"/>
<polygon points="280.00,201.58 282.02,203.60 280.00,205.62 277.98,203.60" fill="#008000" stroke-linejoin="miter"/>
<polygon points="306.30,248.54 308.32,250.56 306.30,252.58 304.28,250.56" fill="#008000" stroke-linejoin="miter"/>
<polygon points="228.76,156.64 231.89,154.89 231.89,158.39" fill="#000080" stroke-linejoin="miter"/>
<polygon points="251.66,176.13 254.79,174.38 254.79,177.88" fill="#000080" stroke-linejoin="miter"/>
<polygon points="273.36,203.60 276.49,201.85 276.49,205.35" fill="#000080" stroke-linejoin="miter"/>
<polygon points="300.46,250.56 303.59,248.81 303.59,252.31" fill="#000080" stroke-linejoin="miter"/>
<polygon points="226.94,156.64 223.81,154.89 223.81,158.39" fill="#8000ff" stroke-linejoin="miter"/>
<polygon points="250.74,176.13 247.61,174.38 247.61,177.88" fill="#8000ff" stroke-linejoin="miter"/>
<polygon points="272.84,203.60 269.71,201.85 269.71,205.35" fill="#8000ff" stroke-linejoin="miter"/>
<polygon points="299.44,250.56 296.31,248.81 296.31,252.31" fill="#8000ff" stroke-linejoin="miter"/>
<circle cx="219.40" cy="156.64" r="1.47" fill="#800080"/>
<circle cx="242.90" cy="176.13" r="1.47" fill="#800080"/>
<circle cx="265.60" cy="203.60" r="1.47" fill="#800080"/>
<circle cx="292.30" cy="250.56" r="1.47" fill="#800080"/>
<circle cx="213.00" cy="156.64" r="1.15" fill="#800000"/>
<circle cx="235.50" cy="176.13" r="1.15" fill="#800000"/>
<circle cx="257.70" cy="203.60" r="1.15" fill="#800000"/>
<circle cx="285.30" cy="250.56" r="1.15" fill="#800000"/>
<rect x="206.00" y="149.50" width="148.00" height="108.60" fill="none" stroke="#707070" stroke-width="1.15"/>
<line x1="229.70" y1="258.10" x2="229.70" y2="260.10" stroke="#555" stroke-width="0.8"/>
<line x1="260.77" y1="258.10" x2="260.77" y2="260.10" stroke="#555" stroke-width="0.8"/>
<line x1="291.84" y1="258.10" x2="291.84" y2="260.10" stroke="#555" stroke-width="0.8"/>
<line x1="322.91" y1="258.10" x2="322.91" y2="260.10" stroke="#555" stroke-width="0.8"/>
<line x1="353.98" y1="258.10" x2="353.98" y2="260.10" stroke="#555" stroke-width="0.8"/>
<line x1="214.16" y1="258.10" x2="214.16" y2="259.30" stroke="#555" stroke-width="0.8"/>
<line x1="245.23" y1="258.10" x2="245.23" y2="259.30" stroke="#555" stroke-width="0.8"/>
<line x1="276.31" y1="258.10" x2="276.31" y2="259.30" stroke="#555" stroke-width="0.8"/>
<line x1="307.38" y1="258.10" x2="307.38" y2="259.30" stroke="#555" stroke-width="0.8"/>
<line x1="338.45" y1="258.10" x2="338.45" y2="259.30" stroke="#555" stroke-width="0.8"/>
<line x1="204.00" y1="156.80" x2="206.00" y2="156.80" stroke="#555" stroke-width="0.8"/>
<line x1="204.00" y1="172.40" x2="206.00" y2="172.40" stroke="#555" stroke-width="0.8"/>
<line x1="204.00" y1="188.00" x2="206.00" y2="188.00" stroke="#555" stroke-width="0.8"/>
<line x1="204.00" y1="203.60" x2="206.00" y2="203.60" stroke="#555" stroke-width="0.8"/>
<line x1="204.00" y1="219.20" x2="206.00" y2="219.20" stroke="#555" stroke-width="0.8"/>
<line x1="204.00" y1="234.80" x2="206.00" y2="234.80" stroke="#555" stroke-width="0.8"/>
<line x1="204.00" y1="250.40" x2="206.00" y2="250.40" stroke="#555" stroke-width="0.8"/>
<line x1="204.80" y1="164.60" x2="206.00" y2="164.60" stroke="#555" stroke-width="0.8"/>
<line x1="204.80" y1="180.20" x2="206.00" y2="180.20" stroke="#555" stroke-width="0.8"/>
<line x1="204.80" y1="195.80" x2="206.00" y2="195.80" stroke="#555" stroke-width="0.8"/>
<line x1="204.80" y1="211.40" x2="206.00" y2="211.40" stroke="#555" stroke-width="0.8"/>
<line x1="204.80" y1="227.00" x2="206.00" y2="227.00" stroke="#555" stroke-width="0.8"/>
<line x1="204.80" y1="242.60" x2="206.00" y2="242.60" stroke="#555" stroke-width="0.8"/>
<line x1="204.80" y1="258.20" x2="206.00" y2="258.20" stroke="#555" stroke-width="0.8"/>
<text x="229.70" y="265.90" class="tl" text-anchor="middle">0.00172</text>
<text x="260.77" y="265.90" class="tl" text-anchor="middle">0.00176</text>
<text x="291.84" y="265.90" class="tl" text-anchor="middle">0.00180</text>
<text x="322.91" y="265.90" class="tl" text-anchor="middle">0.00184</text>
<text x="353.98" y="265.90" class="tl" text-anchor="middle">0.00188</text>
<text x="202.90" y="158.70" class="tl" text-anchor="end">1.3</text>
<text x="202.90" y="174.30" class="tl" text-anchor="end">1.2</text>
<text x="202.90" y="189.90" class="tl" text-anchor="end">1.1</text>
<text x="202.90" y="205.50" class="tl" text-anchor="end">1.0</text>
<text x="202.90" y="221.10" class="tl" text-anchor="end">0.9</text>
<text x="202.90" y="236.70" class="tl" text-anchor="end">0.8</text>
<text x="202.90" y="252.30" class="tl" text-anchor="end">0.7</text>
<text x="234.20" y="144.70" class="tt" textLength="82.9" lengthAdjust="spacing">(e) Atmosphere: air, FWO</text>
<text x="272.90" y="272.60" class="al" textLength="21.9" lengthAdjust="spacingAndGlyphs">1/ <tspan font-style="italic">T</tspan> (K<tspan dy="-2.3" font-size="3.3">-1</tspan><tspan dy="2.3">)</tspan></text>
<text transform="translate(191.90,226.25) rotate(-90)" class="yl" textLength="34.5" lengthAdjust="spacingAndGlyphs">lg(β, K min<tspan dy="-2" font-size="3.6">-1</tspan><tspan dy="2">)</tspan></text>
<text x="331.10" y="158.20" class="lgt">FWO</text>
<rect x="331.92" y="161.72" width="2.56" height="2.56" fill="#000000"/>
<text x="340.60" y="165.20" class="lg">0.1</text>
<circle cx="333.20" cy="169.47" r="1.28" fill="#ff0000"/>
<text x="340.60" y="171.67" class="lg">0.2</text>
<polygon points="333.20,174.34 334.72,177.06 331.68,177.06" fill="#0000ff" stroke-linejoin="miter"/>
<text x="340.60" y="178.14" class="lg">0.3</text>
<polygon points="333.20,184.01 334.72,181.29 331.68,181.29" fill="#ff00ff" stroke-linejoin="miter"/>
<text x="340.60" y="184.61" class="lg">0.4</text>
<polygon points="333.20,187.12 334.96,188.88 333.20,190.64 331.44,188.88" fill="#008000" stroke-linejoin="miter"/>
<text x="340.60" y="191.08" class="lg">0.5</text>
<polygon points="331.60,195.35 334.32,193.83 334.32,196.87" fill="#000080" stroke-linejoin="miter"/>
<text x="340.60" y="197.55" class="lg">0.6</text>
<polygon points="334.80,201.82 332.08,200.30 332.08,203.34" fill="#8000ff" stroke-linejoin="miter"/>
<text x="340.60" y="204.02" class="lg">0.7</text>
<circle cx="333.20" cy="208.29" r="1.28" fill="#800080"/>
<text x="340.60" y="210.49" class="lg">0.8</text>
<circle cx="333.20" cy="214.76" r="0.96" fill="#800000"/>
<text x="340.60" y="216.96" class="lg">0.9</text>
<line x1="453.78" y1="155.57" x2="507.61" y2="240.48" stroke="#7a7a7a" stroke-width="0.6"/>
<line x1="437.11" y1="155.46" x2="499.98" y2="238.88" stroke="#ff0000" stroke-width="0.6" stroke-opacity="0.6"/>
<line x1="427.57" y1="156.50" x2="494.85" y2="239.09" stroke="#0000ff" stroke-width="0.6" stroke-opacity="0.6"/>
<line x1="421.45" y1="157.65" x2="490.74" y2="239.68" stroke="#ff00ff" stroke-width="0.6" stroke-opacity="0.6"/>
<line x1="415.62" y1="158.44" x2="486.72" y2="240.05" stroke="#008000" stroke-width="0.6" stroke-opacity="0.6"/>
<line x1="410.70" y1="158.98" x2="482.70" y2="240.68" stroke="#000080" stroke-width="0.6" stroke-opacity="0.6"/>
<line x1="405.18" y1="159.17" x2="477.98" y2="240.55" stroke="#8000ff" stroke-width="0.6" stroke-opacity="0.6"/>
<line x1="399.46" y1="159.89" x2="472.66" y2="241.09" stroke="#800080" stroke-width="0.6" stroke-opacity="0.6"/>
<line x1="393.03" y1="160.94" x2="465.63" y2="242.47" stroke="#800000" stroke-width="0.6" stroke-opacity="0.6"/>
<rect x="452.42" y="158.92" width="2.72" height="2.72" fill="#000000"/>
<rect x="469.49" y="175.64" width="2.72" height="2.72" fill="#000000"/>
<rect x="482.95" y="200.17" width="2.72" height="2.72" fill="#000000"/>
<rect x="506.25" y="242.11" width="2.72" height="2.72" fill="#000000"/>
<circle cx="437.11" cy="161.82" r="1.47" fill="#ff0000"/>
<circle cx="459.61" cy="178.02" r="1.47" fill="#ff0000"/>
<circle cx="475.67" cy="202.31" r="1.47" fill="#ff0000"/>
<circle cx="499.98" cy="244.15" r="1.47" fill="#ff0000"/>
<polygon points="427.57,160.87 429.32,164.00 425.83,164.00" fill="#0000ff" stroke-linejoin="miter"/>
<polygon points="451.07,176.96 452.82,180.09 449.32,180.09" fill="#0000ff" stroke-linejoin="miter"/>
<polygon points="469.55,201.02 471.30,204.15 467.80,204.15" fill="#0000ff" stroke-linejoin="miter"/>
<polygon points="494.85,242.76 496.60,245.89 493.11,245.89" fill="#0000ff" stroke-linejoin="miter"/>
<polygon points="421.45,165.12 423.20,161.99 419.70,161.99" fill="#ff00ff" stroke-linejoin="miter"/>
<polygon points="444.24,181.27 445.99,178.14 442.50,178.14" fill="#ff00ff" stroke-linejoin="miter"/>
<polygon points="464.83,205.13 466.58,202.00 463.08,202.00" fill="#ff00ff" stroke-linejoin="miter"/>
<polygon points="490.74,246.81 492.49,243.68 488.99,243.68" fill="#ff00ff" stroke-linejoin="miter"/>
<polygon points="415.62,161.81 417.65,163.83 415.62,165.85 413.60,163.83" fill="#008000" stroke-linejoin="miter"/>
<polygon points="438.42,177.94 440.44,179.97 438.42,181.99 436.40,179.97" fill="#008000" stroke-linejoin="miter"/>
<polygon points="460.31,201.68 462.33,203.70 460.31,205.73 458.29,203.70" fill="#008000" stroke-linejoin="miter"/>
<polygon points="486.72,243.31 488.74,245.33 486.72,247.35 484.70,245.33" fill="#008000" stroke-linejoin="miter"/>
<polygon points="408.86,164.30 411.99,162.55 411.99,166.04" fill="#000080" stroke-linejoin="miter"/>
<polygon points="431.86,180.41 434.99,178.66 434.99,182.15" fill="#000080" stroke-linejoin="miter"/>
<polygon points="453.65,204.14 456.78,202.39 456.78,205.89" fill="#000080" stroke-linejoin="miter"/>
<polygon points="480.86,245.69 483.99,243.94 483.99,247.44" fill="#000080" stroke-linejoin="miter"/>
<polygon points="407.02,164.82 403.89,163.07 403.89,166.57" fill="#8000ff" stroke-linejoin="miter"/>
<polygon points="430.92,180.84 427.79,179.09 427.79,182.58" fill="#8000ff" stroke-linejoin="miter"/>
<polygon points="453.11,204.53 449.98,202.78 449.98,206.28" fill="#8000ff" stroke-linejoin="miter"/>
<polygon points="479.82,246.11 476.70,244.37 476.70,247.86" fill="#8000ff" stroke-linejoin="miter"/>
<circle cx="399.46" cy="165.36" r="1.47" fill="#800080"/>
<circle cx="423.06" cy="181.40" r="1.47" fill="#800080"/>
<circle cx="445.85" cy="205.03" r="1.47" fill="#800080"/>
<circle cx="472.66" cy="246.59" r="1.47" fill="#800080"/>
<circle cx="393.03" cy="165.98" r="1.15" fill="#800000"/>
<circle cx="415.62" cy="182.10" r="1.15" fill="#800000"/>
<circle cx="437.92" cy="205.76" r="1.15" fill="#800000"/>
<circle cx="465.63" cy="247.23" r="1.15" fill="#800000"/>
<rect x="386.50" y="149.50" width="148.00" height="108.50" fill="none" stroke="#707070" stroke-width="1.15"/>
<line x1="409.80" y1="258.00" x2="409.80" y2="260.00" stroke="#555" stroke-width="0.8"/>
<line x1="441.00" y1="258.00" x2="441.00" y2="260.00" stroke="#555" stroke-width="0.8"/>
<line x1="472.20" y1="258.00" x2="472.20" y2="260.00" stroke="#555" stroke-width="0.8"/>
<line x1="503.40" y1="258.00" x2="503.40" y2="260.00" stroke="#555" stroke-width="0.8"/>
<line x1="534.60" y1="258.00" x2="534.60" y2="260.00" stroke="#555" stroke-width="0.8"/>
<line x1="394.20" y1="258.00" x2="394.20" y2="259.20" stroke="#555" stroke-width="0.8"/>
<line x1="425.40" y1="258.00" x2="425.40" y2="259.20" stroke="#555" stroke-width="0.8"/>
<line x1="456.60" y1="258.00" x2="456.60" y2="259.20" stroke="#555" stroke-width="0.8"/>
<line x1="487.80" y1="258.00" x2="487.80" y2="259.20" stroke="#555" stroke-width="0.8"/>
<line x1="519.00" y1="258.00" x2="519.00" y2="259.20" stroke="#555" stroke-width="0.8"/>
<line x1="384.50" y1="155.80" x2="386.50" y2="155.80" stroke="#555" stroke-width="0.8"/>
<line x1="384.50" y1="181.20" x2="386.50" y2="181.20" stroke="#555" stroke-width="0.8"/>
<line x1="384.50" y1="206.60" x2="386.50" y2="206.60" stroke="#555" stroke-width="0.8"/>
<line x1="384.50" y1="232.00" x2="386.50" y2="232.00" stroke="#555" stroke-width="0.8"/>
<line x1="384.50" y1="257.40" x2="386.50" y2="257.40" stroke="#555" stroke-width="0.8"/>
<line x1="385.30" y1="168.50" x2="386.50" y2="168.50" stroke="#555" stroke-width="0.8"/>
<line x1="385.30" y1="193.90" x2="386.50" y2="193.90" stroke="#555" stroke-width="0.8"/>
<line x1="385.30" y1="219.30" x2="386.50" y2="219.30" stroke="#555" stroke-width="0.8"/>
<line x1="385.30" y1="244.70" x2="386.50" y2="244.70" stroke="#555" stroke-width="0.8"/>
<text x="409.80" y="265.80" class="tl" text-anchor="middle">0.00172</text>
<text x="441.00" y="265.80" class="tl" text-anchor="middle">0.00176</text>
<text x="472.20" y="265.80" class="tl" text-anchor="middle">0.00180</text>
<text x="503.40" y="265.80" class="tl" text-anchor="middle">0.00184</text>
<text x="534.60" y="265.80" class="tl" text-anchor="middle">0.00188</text>
<text x="383.00" y="157.70" class="tl" text-anchor="end">–9.6</text>
<text x="383.00" y="183.10" class="tl" text-anchor="end">–10.0</text>
<text x="383.00" y="208.50" class="tl" text-anchor="end">–10.4</text>
<text x="383.00" y="233.90" class="tl" text-anchor="end">–10.8</text>
<text x="383.00" y="259.30" class="tl" text-anchor="end">–11.2</text>
<text x="417.00" y="144.70" class="tt" textLength="80.8" lengthAdjust="spacing">(f) Atmosphere: air, KAS</text>
<text x="451.90" y="272.60" class="al" textLength="25.8" lengthAdjust="spacingAndGlyphs">1 / <tspan font-style="italic">T</tspan><tspan dy="1.5" font-size="3.3">α</tspan><tspan dy="-1.5"> (K</tspan><tspan dy="-2.3" font-size="3.3">-1</tspan><tspan dy="2.3">)</tspan></text>
<text transform="translate(367.30,230.00) rotate(-90)" class="yl" textLength="44.0" lengthAdjust="spacingAndGlyphs">ln(β/<tspan font-style="italic">T</tspan><tspan dy="-2" font-size="3.6">2</tspan><tspan dy="3.2" dx="-2" font-size="3.6">α</tspan><tspan dy="-1.2">, K</tspan><tspan dy="-2" font-size="3.6">-1</tspan><tspan dy="2">min</tspan><tspan dy="-2" font-size="3.6">-1</tspan><tspan dy="2">)</tspan></text>
<text x="509.80" y="160.00" class="lgt">KAS</text>
<rect x="510.22" y="164.72" width="2.56" height="2.56" fill="#000000"/>
<text x="518.90" y="168.20" class="lg">0.1</text>
<circle cx="511.50" cy="172.47" r="1.28" fill="#ff0000"/>
<text x="518.90" y="174.67" class="lg">0.2</text>
<polygon points="511.50,177.34 513.02,180.06 509.98,180.06" fill="#0000ff" stroke-linejoin="miter"/>
<text x="518.90" y="181.14" class="lg">0.3</text>
<polygon points="511.50,187.01 513.02,184.29 509.98,184.29" fill="#ff00ff" stroke-linejoin="miter"/>
<text x="518.90" y="187.61" class="lg">0.4</text>
<polygon points="511.50,190.12 513.26,191.88 511.50,193.64 509.74,191.88" fill="#008000" stroke-linejoin="miter"/>
<text x="518.90" y="194.08" class="lg">0.5</text>
<polygon points="509.90,198.35 512.62,196.83 512.62,199.87" fill="#000080" stroke-linejoin="miter"/>
<text x="518.90" y="200.55" class="lg">0.6</text>
<polygon points="513.10,204.82 510.38,203.30 510.38,206.34" fill="#8000ff" stroke-linejoin="miter"/>
<text x="518.90" y="207.02" class="lg">0.7</text>
<circle cx="511.50" cy="211.29" r="1.28" fill="#800080"/>
<text x="518.90" y="213.49" class="lg">0.8</text>
<circle cx="511.50" cy="217.76" r="0.96" fill="#800000"/>
<text x="518.90" y="219.96" class="lg">0.9</text>
</g>
</svg></div>
</body></html>
